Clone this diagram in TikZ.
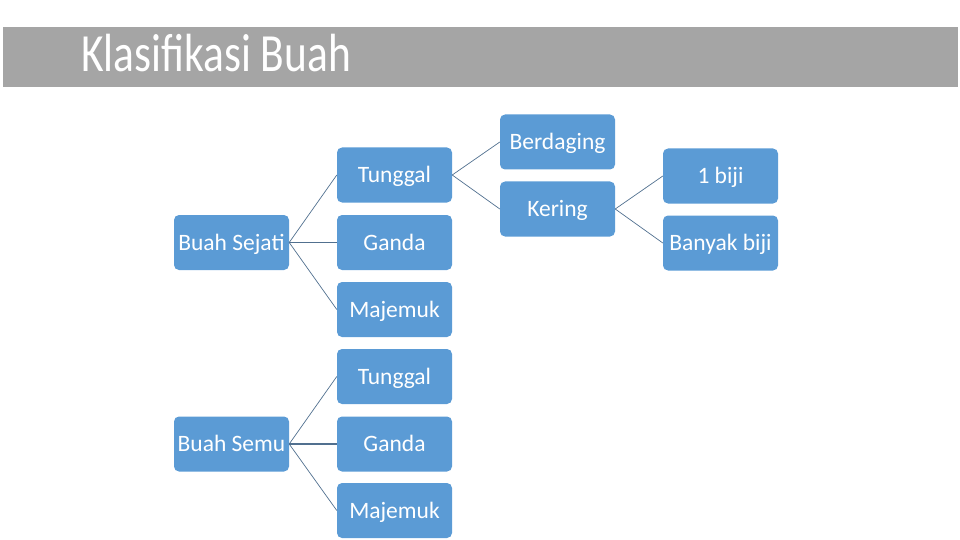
\documentclass[tikz,border=0pt]{standalone}
\usepackage{fontspec}
\setmainfont{Carlito}
\usetikzlibrary{positioning}
\definecolor{boxblue}{HTML}{5B9BD5}
\definecolor{linkgray}{HTML}{51708F}
\definecolor{bargray}{HTML}{A5A5A5}
\begin{document}
\begin{tikzpicture}[x=1pt,y=-1pt]
\tikzstyle{fb} = [fill=boxblue,draw=none,rounded corners=5pt,text=white,
  minimum width=115pt,minimum height=55pt,inner sep=0pt,
  text height=15.1pt,text depth=0pt,
  font=\fontsize{23.5}{24}\selectfont]
\tikzstyle{ln} = [draw=linkgray,line width=0.7pt]
\tikzstyle{lnh} = [draw=linkgray,line width=1.6pt]
\useasboundingbox (0,0) rectangle (960,540);
% title bar
\fill[bargray] (3,27) rectangle (958,87);
\node[anchor=base west,inner sep=0pt,text=white] (title) at (81,71.7)
  {\scalebox{1.01}[1.25]{\fontsize{43}{43}\selectfont Klasifikasi Buah}};
% first level
\node[fb] (sejati) at (231.5,242.5) {Buah Sejati};
\node[fb] (semu) at (231.5,444) {Buah Semu};
% second level
\node[fb] (tunggalA) at (394.5,175) {Tunggal};
\node[fb] (gandaA) at (394.5,242.5) {Ganda};
\node[fb] (majemukA) at (394.5,309.5) {Majemuk};
\node[fb] (tunggalB) at (394.5,376.5) {Tunggal};
\node[fb] (gandaB) at (394.5,444) {Ganda};
\node[fb] (majemukB) at (394.5,510.5) {Majemuk};
% third level
\node[fb] (berdaging) at (557.5,142) {Berdaging};
\node[fb] (kering) at (557.5,209) {Kering};
% fourth level
\node[fb] (satubiji) at (720.5,176) {1 biji};
\node[fb] (banyakbiji) at (720.5,243) {Banyak biji};
% links
\draw[ln] (sejati.east) -- (tunggalA.west);
\draw[lnh] (sejati.east) -- (gandaA.west);
\draw[ln] (sejati.east) -- (majemukA.west);
\draw[ln] (semu.east) -- (tunggalB.west);
\draw[lnh] (semu.east) -- (gandaB.west);
\draw[ln] (semu.east) -- (majemukB.west);
\draw[ln] (tunggalA.east) -- (berdaging.west);
\draw[ln] (tunggalA.east) -- (kering.west);
\draw[ln] (kering.east) -- (satubiji.west);
\draw[ln] (kering.east) -- (banyakbiji.west);
\end{tikzpicture}
\end{document}
